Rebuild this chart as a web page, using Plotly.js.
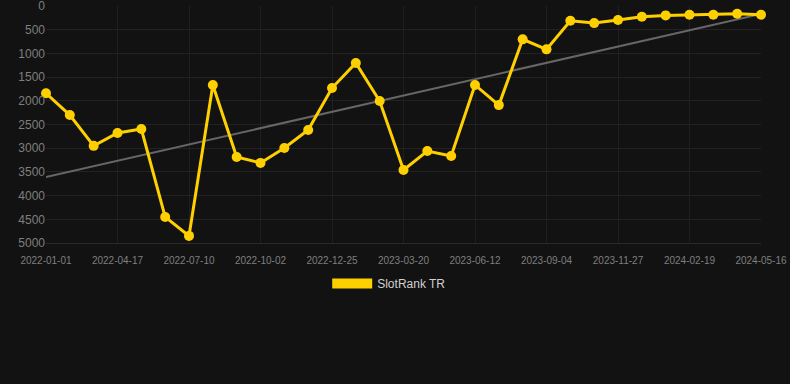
<!DOCTYPE html>
<html><head><meta charset="utf-8">
<script src="https://cdn.plot.ly/plotly-3.0.1.min.js"></script>
<style>html,body{margin:0;padding:0;background:#121212;}#chart{width:790px;height:384px;}</style>
</head><body><div id="chart"></div>
<script>
const dates = ["2022-01-01","2022-02-05","2022-03-12","2022-04-17","2022-05-15","2022-06-12","2022-07-10","2022-08-07","2022-09-04","2022-10-02","2022-10-30","2022-11-27","2022-12-25","2023-01-22","2023-02-19","2023-03-20","2023-04-16","2023-05-14","2023-06-12","2023-07-10","2023-08-07","2023-09-04","2023-10-02","2023-10-30","2023-11-27","2023-12-25","2024-01-22","2024-02-19","2024-03-18","2024-04-15","2024-05-16"];
const ranks = [1840,2300,2950,2680,2595,4450,4850,1665,3185,3310,2995,2615,1730,1200,2005,3460,3060,3165,1665,2090,703,914,310,360,295,225,197,183,183,162,183];
const trendX = ["2022-01-01","2024-05-16"];
const trendY = [3610,165];
const tickLabels = dates.filter((d,i)=>i%3===0);

const traces = [
  {x: trendX, y: trendY, type:'scatter', mode:'lines', line:{color:'#666666', width:2}, showlegend:false, hoverinfo:'skip'},
  {x: dates, y: ranks, type:'scatter', mode:'lines+markers', name:'SlotRank TR',
   line:{color:'#FFD000', width:3}, marker:{color:'#FFD000', size:10}, showlegend:false, cliponaxis:false},
  {x:[null], y:[null], type:'scatter', mode:'lines', name:'SlotRank TR', line:{color:'#FFD000', width:12}, showlegend:true}
];
const layout = {
  width:790, height:384,
  paper_bgcolor:'#121212', plot_bgcolor:'#121212',
  margin:{l:46, r:29, t:6, b:141},
  font:{family:'Liberation Sans, Arial, sans-serif', color:'#7f7f7f'},
  xaxis:{type:'category', categoryorder:'array', categoryarray:dates, range:[0,30], tickvals:tickLabels, ticktext:tickLabels,
    showgrid:true, gridcolor:'#1f1f1f', zeroline:false, tickfont:{size:10, color:'#7f7f7f'},
    showline:true, linecolor:'#2a2a2a', ticks:'', ticklabelstandoff:8},
  yaxis:{range:[5000,-1], tickvals:[0,500,1000,1500,2000,2500,3000,3500,4000,4500,5000],
    showgrid:true, gridcolor:'#222222', zeroline:false, tickfont:{size:12, color:'#7f7f7f'}, ticks:'', ticklabeloverflow:'allow'},
  showlegend:true,
  legend:{orientation:'h', x:0.48, xanchor:'center', y:-0.11, yanchor:'top',
    font:{size:12, color:'#d0d0d0'}, itemwidth:40, bgcolor:'rgba(0,0,0,0)'}
};
Plotly.newPlot('chart', traces, layout, {displayModeBar:false, staticPlot:true});
</script></body></html>
